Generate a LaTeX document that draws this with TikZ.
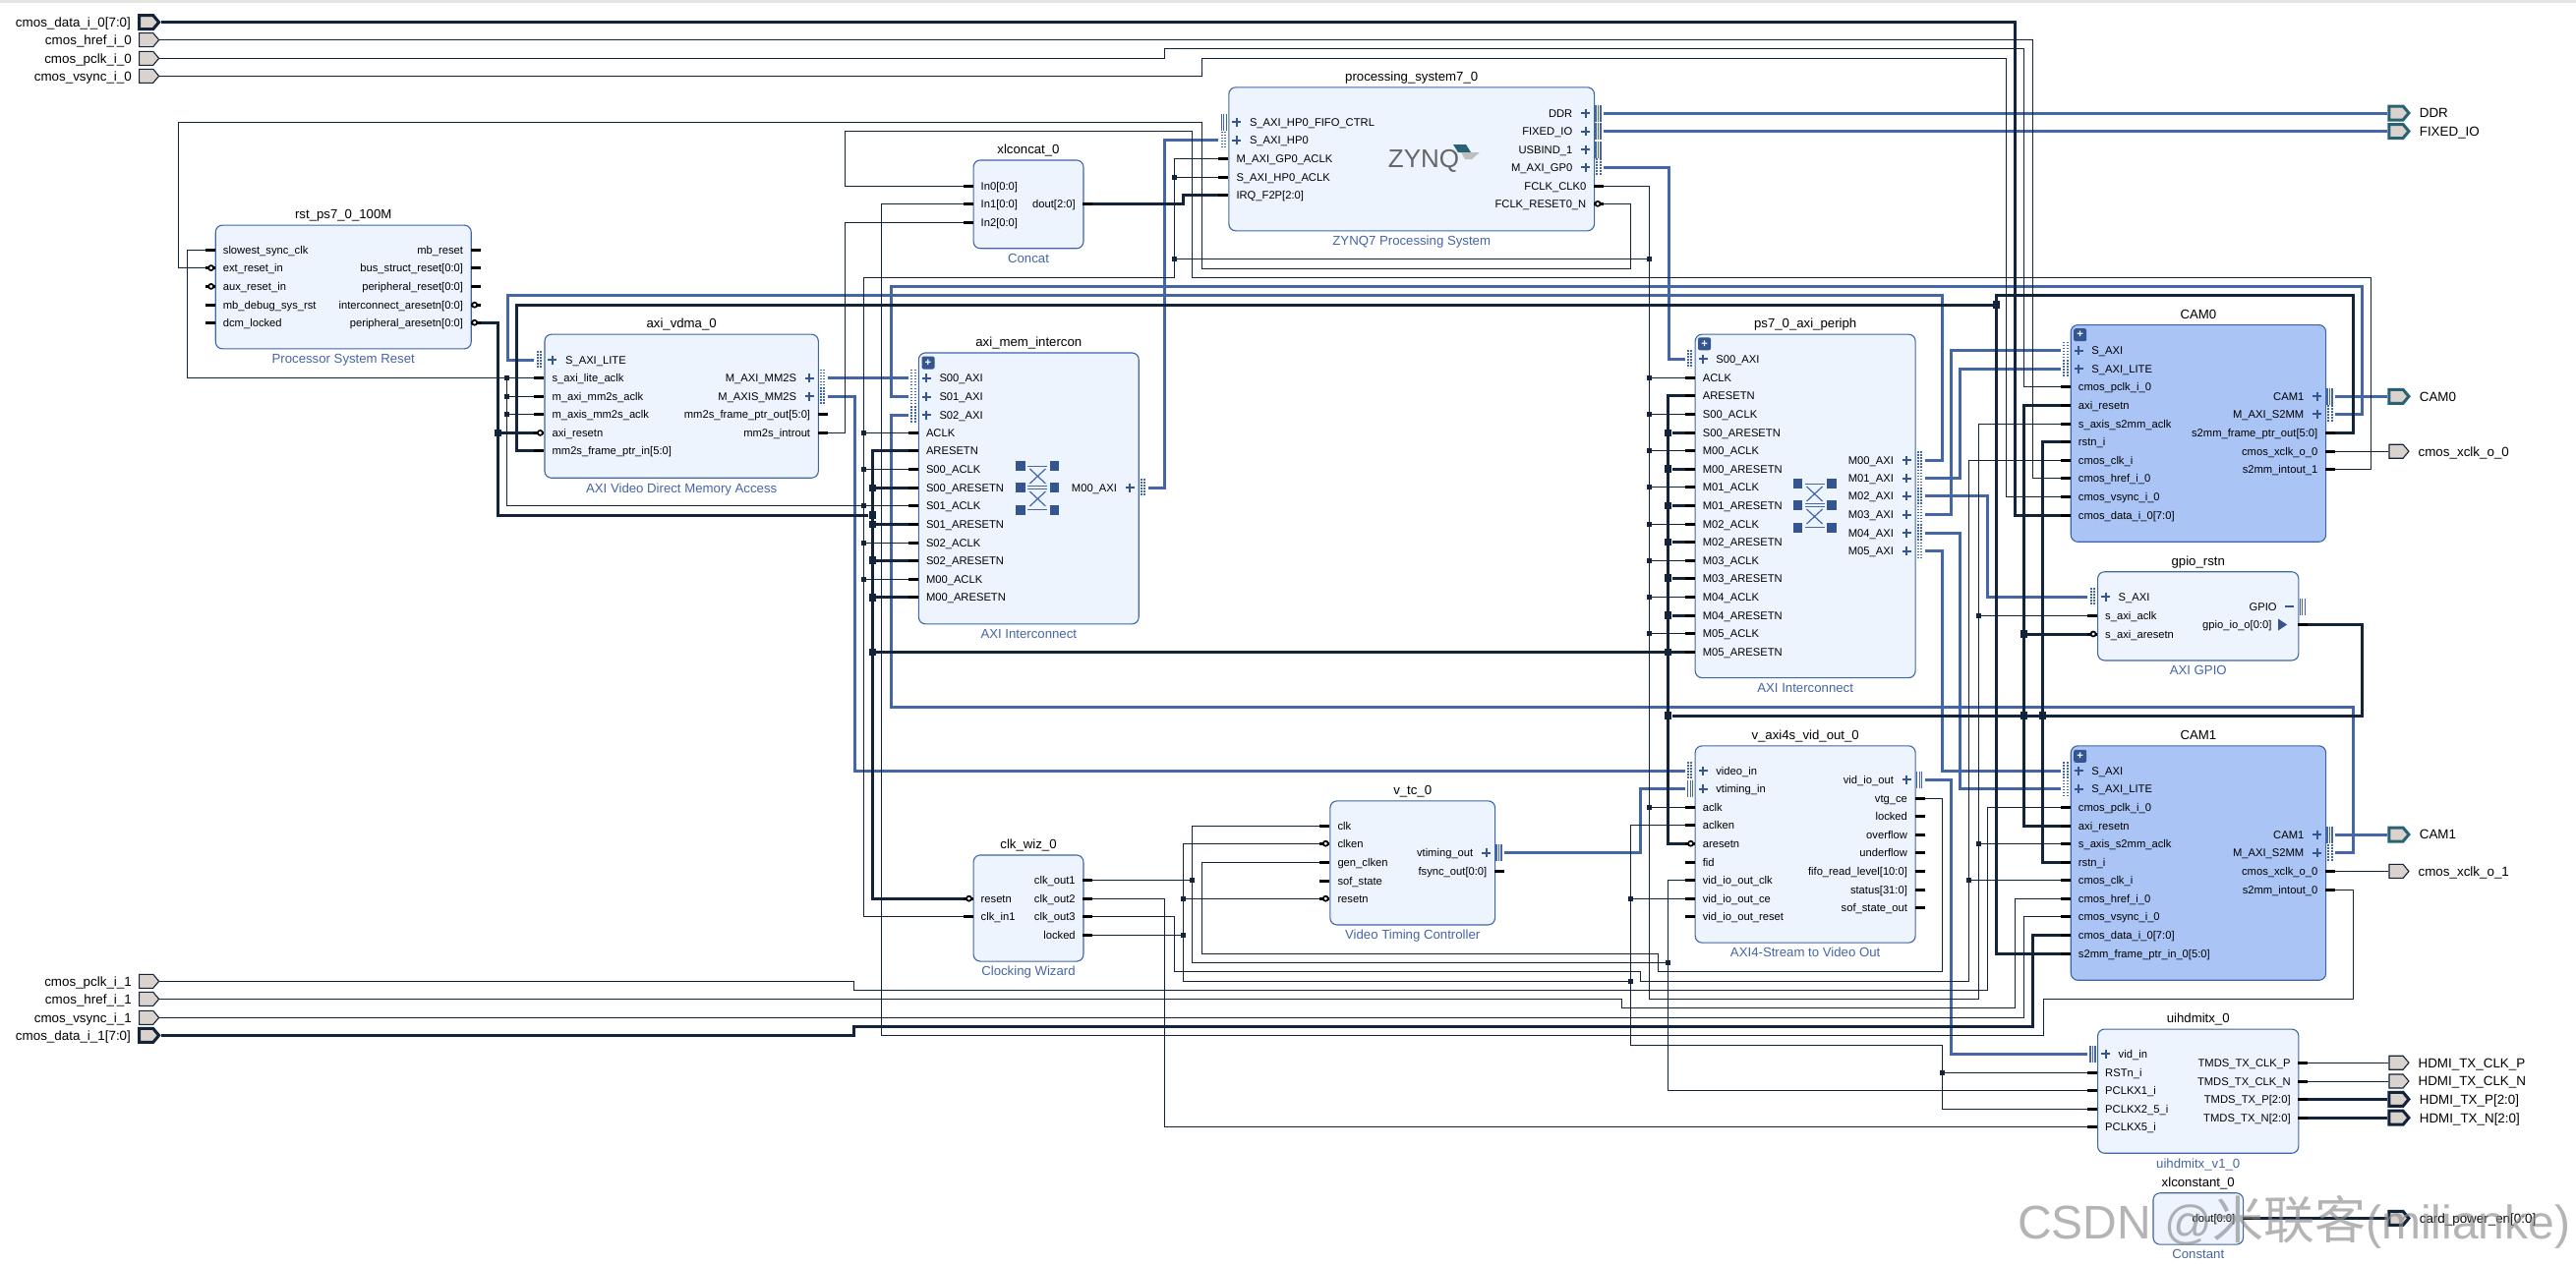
\documentclass[tikz,border=0pt]{standalone}
\usepackage{fontspec}
\setmainfont{Liberation Sans}
\newfontfamily\cjkfont{Noto Sans CJK SC}
\usepackage{xcolor}
\usepackage{tikz}
\usetikzlibrary{shapes.symbols,positioning}
\definecolor{ipfill}{RGB}{237,244,254}
\definecolor{camfill}{RGB}{169,196,245}
\definecolor{ipedge}{RGB}{62,101,165}
\definecolor{subblue}{RGB}{68,100,168}
\definecolor{netdark}{RGB}{18,35,58}
\definecolor{netblue}{RGB}{68,102,166}
\definecolor{markblue}{RGB}{52,85,143}
\definecolor{portfill}{RGB}{218,210,205}
\definecolor{portteal}{RGB}{42,98,117}
\newcommand{\pinfont}{\fontsize{11.2}{12}\selectfont}
\newcommand{\ipfont}{\fontsize{13.2}{15}\selectfont}
\tikzset{
  ipbox/.style={rectangle, rounded corners=7pt, draw=ipedge, fill=ipfill, line width=1.1pt, inner sep=0pt, anchor=north west},
  ipboxcam/.style={ipbox, fill=camfill},
  iptitle/.style={font=\ipfont, text height=9.5pt, text depth=0pt, inner sep=0pt},
  ipsub/.style={iptitle, text=subblue},
  addbtn/.style={rectangle, rounded corners=2pt, fill=markblue, text=white, font=\pinfont\bfseries, minimum size=13pt, inner sep=0pt},
  pinlabel/.style={font=\pinfont, text height=8pt, text depth=0pt, inner ysep=0pt},
  pinstub/.style={draw=black, line width=3pt},
  negring/.style={draw=black, fill=white, line width=1.7pt, to path={circle[radius=2.5pt]}},
  plusline/.style={draw=markblue, line width=2pt},
  dotline/.style={draw=netblue, line width=2pt, dash pattern=on 1.6pt off 1.4pt},
  barline/.style={draw=netblue, line width=1.1pt},
  lbase/.style={pinlabel, anchor=west, xshift=-10pt},
  rbase/.style={pinlabel, anchor=east, xshift=10pt},
  lpin/.style={lbase, inner xsep=18pt, append after command={(\tikzlastnode.west) edge[pinstub] ([xshift=10pt]\tikzlastnode.west)}},
  rpin/.style={rbase, inner xsep=17.5pt, append after command={(\tikzlastnode.east) edge[pinstub] ([xshift=-10pt]\tikzlastnode.east)}},
  lneg/.style={lpin, append after command={([xshift=6pt]\tikzlastnode.west) edge[negring] ([xshift=6pt]\tikzlastnode.west)}},
  rneg/.style={rpin, append after command={([xshift=-6pt]\tikzlastnode.east) edge[negring] ([xshift=-6pt]\tikzlastnode.east)}},
  lplus/.style={lbase, inner xsep=31.5pt, append after command={
    ([xshift=14pt]\tikzlastnode.west) edge[plusline] ([xshift=23pt]\tikzlastnode.west)
    ([xshift=18.5pt,yshift=4.5pt]\tikzlastnode.west) edge[plusline] ([xshift=18.5pt,yshift=-4.5pt]\tikzlastnode.west)}},
  rplus/.style={rbase, inner xsep=31.5pt, append after command={
    ([xshift=-14pt]\tikzlastnode.east) edge[plusline] ([xshift=-23pt]\tikzlastnode.east)
    ([xshift=-18.5pt,yshift=4.5pt]\tikzlastnode.east) edge[plusline] ([xshift=-18.5pt,yshift=-4.5pt]\tikzlastnode.east)}},
  lbus/.style={lplus, append after command={
    ([xshift=3.5pt,yshift=9pt]\tikzlastnode.west) edge[dotline] ([xshift=3.5pt,yshift=-9pt]\tikzlastnode.west)
    ([xshift=6.8pt,yshift=9pt]\tikzlastnode.west) edge[dotline] ([xshift=6.8pt,yshift=-9pt]\tikzlastnode.west)}},
  rbus/.style={rplus, append after command={
    ([xshift=-3.5pt,yshift=9pt]\tikzlastnode.east) edge[dotline] ([xshift=-3.5pt,yshift=-9pt]\tikzlastnode.east)
    ([xshift=-6.8pt,yshift=9pt]\tikzlastnode.east) edge[dotline] ([xshift=-6.8pt,yshift=-9pt]\tikzlastnode.east)}},
  lbars/.style={append after command={
    ([xshift=3pt,yshift=8.5pt]\tikzlastnode.west) edge[barline] ([xshift=3pt,yshift=-8.5pt]\tikzlastnode.west)
    ([xshift=5.5pt,yshift=8.5pt]\tikzlastnode.west) edge[barline] ([xshift=5.5pt,yshift=-8.5pt]\tikzlastnode.west)
    ([xshift=8pt,yshift=8.5pt]\tikzlastnode.west) edge[barline] ([xshift=8pt,yshift=-8.5pt]\tikzlastnode.west)}},
  rbars/.style={append after command={
    ([xshift=-3pt,yshift=8.5pt]\tikzlastnode.east) edge[barline] ([xshift=-3pt,yshift=-8.5pt]\tikzlastnode.east)
    ([xshift=-5.5pt,yshift=8.5pt]\tikzlastnode.east) edge[barline] ([xshift=-5.5pt,yshift=-8.5pt]\tikzlastnode.east)
    ([xshift=-8pt,yshift=8.5pt]\tikzlastnode.east) edge[barline] ([xshift=-8pt,yshift=-8.5pt]\tikzlastnode.east)}},
  lifbar/.style={lplus, lbars},
  rifbar/.style={rplus, rbars},
  extport/.style={signal, signal to=east, signal pointer angle=100, fill=portfill, draw=netdark, line width=1.1pt, minimum width=20pt, minimum height=14pt, inner sep=0pt},
  extbus/.style={extport, line width=3pt},
  extif/.style={extport, draw=portteal, line width=3pt},
  extlabel/.style={font=\fontsize{13.4}{15}\selectfont, text height=9.6pt, text depth=0pt, inner sep=0pt},
  pwire/.style={draw=netdark, line width=1pt},
  pthick/.style={draw=netdark, line width=3pt},
  pbus/.style={draw=netblue, line width=3pt},
  jthin/.style={rectangle, fill=netdark, minimum size=5pt, inner sep=0pt},
  jthick/.style={rectangle, fill=netdark, minimum size=7.5pt, inner sep=0pt},
  xbar/.pic={
    \foreach \py in {-22.5,0,22.5} {
      \fill[markblue] (-22,\py-5) rectangle (-12.5,\py+5);
      \fill[markblue] (12.5,\py-5) rectangle (22,\py+5);
    }
    \draw[netblue, line width=1pt] (-10,-22) -- (10,-22) (-10,22) -- (10,22) (-10,-1.7) -- (10,-1.7) (-10,1.7) -- (10,1.7);
    \draw[netblue, line width=1.2pt] (-8,-19) -- (8,-4) (8,-19) -- (-8,-4) (-8,4) -- (8,19) (8,4) -- (-8,19);
  }
}

\begin{document}
\begin{tikzpicture}[x=1pt,y=-1pt]
\useasboundingbox (0,0) rectangle (2620,1285);
\fill[black!10] (0,0) rectangle (2620,3);

% blocks
\node[ipbox, minimum width=260pt, minimum height=125.7pt] (rst) at (218.7,228.6) {};
\node[iptitle, above=5.5pt of rst] (rst_name) {rst\_ps7\_0\_100M};
\node[ipsub, below=4.5pt of rst] (rst_type) {Processor System Reset};
\node[ipbox, minimum width=278.4pt, minimum height=146.1pt] (vdma) at (553.4,339.6) {};
\node[iptitle, above=5.5pt of vdma] (vdma_name) {axi\_vdma\_0};
\node[ipsub, below=4.5pt of vdma] (vdma_type) {AXI Video Direct Memory Access};
\node[ipbox, minimum width=223.9pt, minimum height=275.9pt] (ic) at (933.8,358.4) {};
\node[iptitle, above=5.5pt of ic] (ic_name) {axi\_mem\_intercon};
\node[ipsub, below=4.5pt of ic] (ic_type) {AXI Interconnect};
\node[ipbox, minimum width=111.9pt, minimum height=89.8pt] (concat) at (989.5,162.4) {};
\node[iptitle, above=5.5pt of concat] (concat_name) {xlconcat\_0};
\node[ipsub, below=4.5pt of concat] (concat_type) {Concat};
\node[ipbox, minimum width=371.7pt, minimum height=146pt] (zynq) at (1249.3,88.3) {};
\node[iptitle, above=5.5pt of zynq] (zynq_name) {processing\_system7\_0};
\node[ipsub, below=4.5pt of zynq] (zynq_type) {ZYNQ7 Processing System};
\node[ipbox, minimum width=224pt, minimum height=349.4pt] (pp) at (1723.6,339.6) {};
\node[iptitle, above=5.5pt of pp] (pp_name) {ps7\_0\_axi\_periph};
\node[ipsub, below=4.5pt of pp] (pp_type) {AXI Interconnect};
\node[ipboxcam, minimum width=259.3pt, minimum height=220.7pt] (cam0) at (2105.7,330) {};
\node[iptitle, above=5.5pt of cam0] (cam0_name) {CAM0};
\node[ipbox, minimum width=204.3pt, minimum height=90.2pt] (gpio) at (2133,581.2) {};
\node[iptitle, above=5.5pt of gpio] (gpio_name) {gpio\_rstn};
\node[ipsub, below=4.5pt of gpio] (gpio_type) {AXI GPIO};
\node[ipboxcam, minimum width=259.3pt, minimum height=238.4pt] (cam1) at (2105.7,758.3) {};
\node[iptitle, above=5.5pt of cam1] (cam1_name) {CAM1};
\node[ipbox, minimum width=224pt, minimum height=200.3pt] (vout) at (1723.6,758.3) {};
\node[iptitle, above=5.5pt of vout] (vout_name) {v\_axi4s\_vid\_out\_0};
\node[ipsub, below=4.5pt of vout] (vout_type) {AXI4-Stream to Video Out};
\node[ipbox, minimum width=167.7pt, minimum height=126.1pt] (vtc) at (1352.3,814.3) {};
\node[iptitle, above=5.5pt of vtc] (vtc_name) {v\_tc\_0};
\node[ipsub, below=4.5pt of vtc] (vtc_type) {Video Timing Controller};
\node[ipbox, minimum width=111.9pt, minimum height=108.1pt] (wiz) at (989.5,869.4) {};
\node[iptitle, above=5.5pt of wiz] (wiz_name) {clk\_wiz\_0};
\node[ipsub, below=4.5pt of wiz] (wiz_type) {Clocking Wizard};
\node[ipbox, minimum width=204.3pt, minimum height=126.2pt] (hdmi) at (2133,1046.5) {};
\node[iptitle, above=5.5pt of hdmi] (hdmi_name) {uihdmitx\_0};
\node[ipsub, below=4.5pt of hdmi] (hdmi_type) {uihdmitx\_v1\_0};
\node[ipbox, minimum width=91.6pt, minimum height=52.4pt] (cnst) at (2189.4,1213.2) {};
\node[iptitle, above=5.5pt of cnst] (cnst_name) {xlconstant\_0};
\node[ipsub, below=4.5pt of cnst] (cnst_type) {Constant};

\node[addbtn] (ic_add) at (944,369) {+};
\node[addbtn] (pp_add) at (1733.5,349.8) {+};
\node[addbtn] (cam0_add) at (2115.7,340.7) {+};
\node[addbtn] (cam1_add) at (2115.7,769.3) {+};
\pic at (1055.4,496) {xbar};
\pic at (1845.5,514) {xbar};
\node[font=\fontsize{26}{30}\selectfont, text=black!60, inner sep=0pt] (zynq_logo) at (1448,164) {ZYNQ};
\fill[portteal] (1478,147) -- (1491,147) -- (1496,155) -- (1483,155) -- cycle;
\fill[black!25] (1486,155) -- (1505,155) -- (1497,162) -- (1490,162) -- cycle;

% rst_ps7_0_100M pins
\node[lpin] (rst_sync) at (218.7,254.3) {slowest\_sync\_clk};
\node[lneg] (rst_ext) at (218.7,272.6) {ext\_reset\_in};
\node[lneg] (rst_aux) at (218.7,291.4) {aux\_reset\_in};
\node[lpin] (rst_dbg) at (218.7,310.2) {mb\_debug\_sys\_rst};
\node[lpin] (rst_dcm) at (218.7,328.2) {dcm\_locked};
\node[rpin] (rst_mb) at (478.7,254.3) {mb\_reset};
\node[rpin] (rst_bus) at (478.7,272.6) {bus\_struct\_reset[0:0]};
\node[rpin] (rst_per) at (478.7,291.4) {peripheral\_reset[0:0]};
\node[rneg] (rst_inter) at (478.7,310.2) {interconnect\_aresetn[0:0]};
\node[rneg] (rst_pa) at (478.7,328.2) {peripheral\_aresetn[0:0]};
% axi_vdma_0 pins
\node[lbus] (vdma_lite) at (553.4,366) {S\_AXI\_LITE};
\node[lpin] (vdma_lclk) at (553.4,384.5) {s\_axi\_lite\_aclk};
\node[lpin] (vdma_mclk) at (553.4,403.3) {m\_axi\_mm2s\_aclk};
\node[lpin] (vdma_sclk) at (553.4,421.6) {m\_axis\_mm2s\_aclk};
\node[lneg] (vdma_rstn) at (553.4,440.4) {axi\_resetn};
\node[lpin] (vdma_ptr) at (553.4,458.4) {mm2s\_frame\_ptr\_in[5:0]};
\node[rbus] (vdma_mm) at (831.8,384.5) {M\_AXI\_MM2S};
\node[rbus] (vdma_axis) at (831.8,403.3) {M\_AXIS\_MM2S};
\node[rpin] (vdma_pout) at (831.8,421.6) {mm2s\_frame\_ptr\_out[5:0]};
\node[rpin] (vdma_int) at (831.8,440.4) {mm2s\_introut};
% axi_mem_intercon pins
\node[lbus] (ic_s00) at (933.8,384.5) {S00\_AXI};
\node[lbus] (ic_s01) at (933.8,403.5) {S01\_AXI};
\node[lbus] (ic_s02) at (933.8,422) {S02\_AXI};
\node[lpin] (ic_aclk) at (933.8,440.4) {ACLK};
\node[lpin] (ic_arst) at (933.8,458.8) {ARESETN};
\node[lpin] (ic_s00c) at (933.8,477) {S00\_ACLK};
\node[lpin] (ic_s00r) at (933.8,496.3) {S00\_ARESETN};
\node[lpin] (ic_s01c) at (933.8,514.6) {S01\_ACLK};
\node[lpin] (ic_s01r) at (933.8,533.5) {S01\_ARESETN};
\node[lpin] (ic_s02c) at (933.8,552.2) {S02\_ACLK};
\node[lpin] (ic_s02r) at (933.8,570.2) {S02\_ARESETN};
\node[lpin] (ic_m00c) at (933.8,589.4) {M00\_ACLK};
\node[lpin] (ic_m00r) at (933.8,607.8) {M00\_ARESETN};
\node[rbus] (ic_m00) at (1157.7,496.3) {M00\_AXI};
% xlconcat_0 pins
\node[lpin] (cc_in0) at (989.5,189.4) {In0[0:0]};
\node[lpin] (cc_in1) at (989.5,207.3) {In1[0:0]};
\node[lpin] (cc_in2) at (989.5,226) {In2[0:0]};
\node[rpin] (cc_dout) at (1101.4,207.3) {dout[2:0]};
% processing_system7_0 pins
\node[lifbar] (zy_fifo) at (1249.3,124.3) {S\_AXI\_HP0\_FIFO\_CTRL};
\node[lbus] (zy_hp) at (1249.3,142.7) {S\_AXI\_HP0};
\node[lpin] (zy_gpclk) at (1249.3,161.3) {M\_AXI\_GP0\_ACLK};
\node[lpin] (zy_hpclk) at (1249.3,180.3) {S\_AXI\_HP0\_ACLK};
\node[lpin] (zy_irq) at (1249.3,198.3) {IRQ\_F2P[2:0]};
\node[rifbar] (zy_ddr) at (1621,115) {DDR};
\node[rifbar] (zy_fix) at (1621,133.5) {FIXED\_IO};
\node[rifbar] (zy_usb) at (1621,152.2) {USBIND\_1};
\node[rbus] (zy_gp) at (1621,170.2) {M\_AXI\_GP0};
\node[rpin] (zy_clk) at (1621,189.4) {FCLK\_CLK0};
\node[rneg] (zy_frst) at (1621,207.3) {FCLK\_RESET0\_N};
% ps7_0_axi_periph pins
\node[lbus] (pp_s00) at (1723.6,365.3) {S00\_AXI};
\node[lpin] (pp_aclk) at (1723.6,384) {ACLK};
\node[lpin] (pp_arst) at (1723.6,402) {ARESETN};
\node[lpin] (pp_s00c) at (1723.6,421) {S00\_ACLK};
\node[lpin] (pp_s00r) at (1723.6,440.4) {S00\_ARESETN};
\node[lpin] (pp_m00c) at (1723.6,458.4) {M00\_ACLK};
\node[lpin] (pp_m00r) at (1723.6,477) {M00\_ARESETN};
\node[lpin] (pp_m01c) at (1723.6,495.5) {M01\_ACLK};
\node[lpin] (pp_m01r) at (1723.6,514.3) {M01\_ARESETN};
\node[lpin] (pp_m02c) at (1723.6,533.5) {M02\_ACLK};
\node[lpin] (pp_m02r) at (1723.6,551.4) {M02\_ARESETN};
\node[lpin] (pp_m03c) at (1723.6,570.2) {M03\_ACLK};
\node[lpin] (pp_m03r) at (1723.6,588.2) {M03\_ARESETN};
\node[lpin] (pp_m04c) at (1723.6,607) {M04\_ACLK};
\node[lpin] (pp_m04r) at (1723.6,626) {M04\_ARESETN};
\node[lpin] (pp_m05c) at (1723.6,644.5) {M05\_ACLK};
\node[lpin] (pp_m05r) at (1723.6,663.3) {M05\_ARESETN};
\node[rbus] (pp_m00) at (1947.6,468.2) {M00\_AXI};
\node[rbus] (pp_m01) at (1947.6,486.5) {M01\_AXI};
\node[rbus] (pp_m02) at (1947.6,504.9) {M02\_AXI};
\node[rbus] (pp_m03) at (1947.6,523.7) {M03\_AXI};
\node[rbus] (pp_m04) at (1947.6,542) {M04\_AXI};
\node[rbus] (pp_m05) at (1947.6,560.8) {M05\_AXI};
% CAM0 pins
\node[lbus] (c0_saxi) at (2105.7,356.7) {S\_AXI};
\node[lbus] (c0_lite) at (2105.7,375.3) {S\_AXI\_LITE};
\node[lpin] (c0_pclk) at (2105.7,393.3) {cmos\_pclk\_i\_0};
\node[lpin] (c0_arst) at (2105.7,412.7) {axi\_resetn};
\node[lpin] (c0_sclk) at (2105.7,431.3) {s\_axis\_s2mm\_aclk};
\node[lpin] (c0_rsti) at (2105.7,449.7) {rstn\_i};
\node[lpin] (c0_cclk) at (2105.7,468.3) {cmos\_clk\_i};
\node[lpin] (c0_href) at (2105.7,486.7) {cmos\_href\_i\_0};
\node[lpin] (c0_vsync) at (2105.7,505.7) {cmos\_vsync\_i\_0};
\node[lpin] (c0_data) at (2105.7,524.3) {cmos\_data\_i\_0[7:0]};
\node[rifbar] (c0_cam) at (2365,403.3) {CAM1};
\node[rbus] (c0_s2mm) at (2365,421.2) {M\_AXI\_S2MM};
\node[rpin] (c0_fout) at (2365,440.4) {s2mm\_frame\_ptr\_out[5:0]};
\node[rpin] (c0_xclk) at (2365,459.2) {cmos\_xclk\_o\_0};
\node[rpin] (c0_int) at (2365,477.5) {s2mm\_intout\_1};
% gpio_rstn pins
\node[lbus] (gp_saxi) at (2133,607.3) {S\_AXI};
\node[lpin] (gp_aclk) at (2133,626) {s\_axi\_aclk};
\node[lneg] (gp_rstn) at (2133,645) {s\_axi\_aresetn};
\node[rbase, inner xsep=31.5pt, rbars] (gp_gpio) at (2337.3,617.1) {GPIO};
\node[rpin, inner xsep=36.6pt] (gp_out) at (2337.3,635.5) {gpio\_io\_o[0:0]};
\draw[plusline] (2324,617.1) -- (2333,617.1);
\fill[markblue] (2317,629.5) -- (2326,635.5) -- (2317,641.5) -- cycle;
% CAM1 pins
\node[lbus] (c1_saxi) at (2105.7,784.2) {S\_AXI};
\node[lbus] (c1_lite) at (2105.7,802.7) {S\_AXI\_LITE};
\node[lpin] (c1_pclk) at (2105.7,821.2) {cmos\_pclk\_i\_0};
\node[lpin] (c1_arst) at (2105.7,840) {axi\_resetn};
\node[lpin] (c1_sclk) at (2105.7,858.3) {s\_axis\_s2mm\_aclk};
\node[lpin] (c1_rsti) at (2105.7,877.3) {rstn\_i};
\node[lpin] (c1_cclk) at (2105.7,895.3) {cmos\_clk\_i};
\node[lpin] (c1_href) at (2105.7,914.3) {cmos\_href\_i\_0};
\node[lpin] (c1_vsync) at (2105.7,932.7) {cmos\_vsync\_i\_0};
\node[lpin] (c1_data) at (2105.7,951) {cmos\_data\_i\_0[7:0]};
\node[lpin] (c1_fin) at (2105.7,970) {s2mm\_frame\_ptr\_in\_0[5:0]};
\node[rifbar] (c1_cam) at (2365,849) {CAM1};
\node[rbus] (c1_s2mm) at (2365,867.9) {M\_AXI\_S2MM};
\node[rpin] (c1_xclk) at (2365,886.4) {cmos\_xclk\_o\_0};
\node[rpin] (c1_int) at (2365,905.3) {s2mm\_intout\_0};
% v_axi4s_vid_out_0 pins
\node[lbus] (vo_vid) at (1723.6,784.2) {video\_in};
\node[lifbar] (vo_tim) at (1723.6,802.7) {vtiming\_in};
\node[lpin] (vo_clk) at (1723.6,821.2) {aclk};
\node[lpin] (vo_en) at (1723.6,839.3) {aclken};
\node[lneg] (vo_rst) at (1723.6,858.2) {aresetn};
\node[lpin] (vo_fid) at (1723.6,877.1) {fid};
\node[lpin] (vo_oclk) at (1723.6,895.3) {vid\_io\_out\_clk};
\node[lpin] (vo_oce) at (1723.6,914.2) {vid\_io\_out\_ce};
\node[lpin] (vo_orst) at (1723.6,932.3) {vid\_io\_out\_reset};
\node[rifbar] (vo_out) at (1947.6,793) {vid\_io\_out};
\node[rpin] (vo_ce) at (1947.6,812.3) {vtg\_ce};
\node[rpin] (vo_lock) at (1947.6,830) {locked};
\node[rpin] (vo_ov) at (1947.6,849.4) {overflow};
\node[rpin] (vo_un) at (1947.6,867.5) {underflow};
\node[rpin] (vo_fifo) at (1947.6,886.4) {fifo\_read\_level[10:0]};
\node[rpin] (vo_stat) at (1947.6,905) {status[31:0]};
\node[rpin] (vo_sof) at (1947.6,923.4) {sof\_state\_out};
% v_tc_0 pins
\node[lpin] (vc_clk) at (1352.3,840) {clk};
\node[lneg] (vc_en) at (1352.3,858.2) {clken};
\node[lpin] (vc_gen) at (1352.3,877.5) {gen\_clken};
\node[lpin] (vc_sof) at (1352.3,896.4) {sof\_state};
\node[lneg] (vc_rst) at (1352.3,914.2) {resetn};
\node[rifbar] (vc_tim) at (1520,867.9) {vtiming\_out};
\node[rpin] (vc_fs) at (1520,886.4) {fsync\_out[0:0]};
% clk_wiz_0 pins
\node[lneg] (wz_rstn) at (989.5,914.2) {resetn};
\node[lpin] (wz_in) at (989.5,932.3) {clk\_in1};
\node[rpin] (wz_o1) at (1101.4,895.3) {clk\_out1};
\node[rpin] (wz_o2) at (1101.4,914.2) {clk\_out2};
\node[rpin] (wz_o3) at (1101.4,932.3) {clk\_out3};
\node[rpin] (wz_lock) at (1101.4,951.6) {locked};
% uihdmitx_0 pins
\node[lifbar] (hd_vid) at (2133,1072.4) {vid\_in};
\node[lpin] (hd_rst) at (2133,1091.6) {RSTn\_i};
\node[lpin] (hd_p1) at (2133,1109.4) {PCLKX1\_i};
\node[lpin] (hd_p25) at (2133,1128.3) {PCLKX2\_5\_i};
\node[lpin] (hd_p5) at (2133,1146.4) {PCLKX5\_i};
\node[rpin] (hd_cp) at (2337.3,1081.2) {TMDS\_TX\_CLK\_P};
\node[rpin] (hd_cn) at (2337.3,1100) {TMDS\_TX\_CLK\_N};
\node[rpin] (hd_tp) at (2337.3,1118.3) {TMDS\_TX\_P[2:0]};
\node[rpin] (hd_tn) at (2337.3,1137.2) {TMDS\_TX\_N[2:0]};
\node[rpin] (cn_out) at (2281,1239.4) {dout[0:0]};

% top level ports
\node[extbus] (p_data0) at (148.7,22.6) {};
\node[extlabel, left=7pt of p_data0] (l_data0) {cmos\_data\_i\_0[7:0]};
\node[extport] (p_href0) at (148.7,40.6) {};
\node[extlabel, left=7pt of p_href0] (l_href0) {cmos\_href\_i\_0};
\node[extport] (p_pclk0) at (148.7,59.3) {};
\node[extlabel, left=7pt of p_pclk0] (l_pclk0) {cmos\_pclk\_i\_0};
\node[extport] (p_vsync0) at (148.7,77.3) {};
\node[extlabel, left=7pt of p_vsync0] (l_vsync0) {cmos\_vsync\_i\_0};
\node[extport] (p_pclk1) at (148.7,998.3) {};
\node[extlabel, left=7pt of p_pclk1] (l_pclk1) {cmos\_pclk\_i\_1};
\node[extport] (p_href1) at (148.7,1016.4) {};
\node[extlabel, left=7pt of p_href1] (l_href1) {cmos\_href\_i\_1};
\node[extport] (p_vsync1) at (148.7,1035.3) {};
\node[extlabel, left=7pt of p_vsync1] (l_vsync1) {cmos\_vsync\_i\_1};
\node[extbus] (p_data1) at (148.7,1053.4) {};
\node[extlabel, left=7pt of p_data1] (l_data1) {cmos\_data\_i\_1[7:0]};
\node[extif] (p_ddr) at (2437,115) {};
\node[extlabel, right=8.7pt of p_ddr] (l_ddr) {DDR};
\node[extif] (p_fix) at (2437,133.5) {};
\node[extlabel, right=8.7pt of p_fix] (l_fix) {FIXED\_IO};
\node[extif] (p_cam0) at (2437,403.3) {};
\node[extlabel, right=8.7pt of p_cam0] (l_cam0) {CAM0};
\node[extport] (p_xclk0) at (2437,459.2) {};
\node[extlabel, right=8.7pt of p_xclk0] (l_xclk0) {cmos\_xclk\_o\_0};
\node[extif] (p_cam1) at (2437,849) {};
\node[extlabel, right=8.7pt of p_cam1] (l_cam1) {CAM1};
\node[extport] (p_xclk1) at (2437,886.4) {};
\node[extlabel, right=8.7pt of p_xclk1] (l_xclk1) {cmos\_xclk\_o\_1};
\node[extport] (p_cp) at (2437,1081.2) {};
\node[extlabel, right=8.7pt of p_cp] (l_cp) {HDMI\_TX\_CLK\_P};
\node[extport] (p_cn) at (2437,1100) {};
\node[extlabel, right=8.7pt of p_cn] (l_cn) {HDMI\_TX\_CLK\_N};
\node[extbus] (p_tp) at (2437,1118.3) {};
\node[extlabel, right=8.7pt of p_tp] (l_tp) {HDMI\_TX\_P[2:0]};
\node[extbus] (p_tn) at (2437,1137.2) {};
\node[extlabel, right=8.7pt of p_tn] (l_tn) {HDMI\_TX\_N[2:0]};
\node[extbus] (p_card) at (2437,1239.4) {};
\node[extlabel, right=8.7pt of p_card] (l_card) {card\_power\_en[0:0]};

% junctions
\node[jthin] (j_zy1) at (1194.3,180.3) {};
\node[jthin] (j_zy2) at (1194.3,263.3) {};
\node[jthin] (j_fc0) at (1677.3,263.3) {};
\node[jthin] (j_fc1) at (1677.3,384) {};
\node[jthin] (j_fc2) at (1677.3,421) {};
\node[jthin] (j_fc3) at (1677.3,458.4) {};
\node[jthin] (j_fc4) at (1677.3,495.5) {};
\node[jthin] (j_fc5) at (1677.3,533.5) {};
\node[jthin] (j_fc6) at (1677.3,570.2) {};
\node[jthin] (j_fc7) at (1677.3,607) {};
\node[jthin] (j_fc8) at (1677.3,644.5) {};
\node[jthin] (j_fc9) at (1677.3,821.2) {};
\node[jthin] (j_fd1) at (2012.3,626) {};
\node[jthin] (j_fd2) at (2012.3,858.3) {};
\node[jthin] (j_ic1) at (878.5,440.4) {};
\node[jthin] (j_ic2) at (878.5,477) {};
\node[jthin] (j_ic3) at (878.5,514.6) {};
\node[jthin] (j_ic4) at (878.5,552.2) {};
\node[jthin] (j_ic5) at (878.5,589.4) {};
\node[jthin] (j_vd1) at (515.5,384.5) {};
\node[jthin] (j_vd2) at (515.5,403.3) {};
\node[jthin] (j_vd3) at (515.5,421.6) {};
\node[jthin] (j_out1a) at (1212.8,895.3) {};
\node[jthin] (j_out1b) at (1696.4,979.4) {};
\node[jthin] (j_out3) at (2002.3,895.3) {};
\node[jthin] (j_lk1) at (1203.6,914.2) {};
\node[jthin] (j_lk2) at (1203.6,951.6) {};
\node[jthin] (j_lk3) at (1658.3,998.3) {};
\node[jthin] (j_lk4) at (1658.3,914.2) {};
\node[jthin] (j_lk5) at (1975.7,1091.6) {};
\node[jthick] (j_vd4) at (506.3,440.4) {};
\node[jthick] (j_rs1) at (887.3,496.3) {};
\node[jthick] (j_rs2) at (887.3,524) {};
\node[jthick] (j_rs3) at (887.3,533.5) {};
\node[jthick] (j_rs4) at (887.3,570.2) {};
\node[jthick] (j_rs5) at (887.3,607.8) {};
\node[jthick] (j_rs6) at (887.3,663.3) {};
\node[jthick] (j_pp1) at (1696.7,440.4) {};
\node[jthick] (j_pp2) at (1696.7,477) {};
\node[jthick] (j_pp3) at (1696.7,514.3) {};
\node[jthick] (j_pp4) at (1696.7,551.4) {};
\node[jthick] (j_pp5) at (1696.7,588.2) {};
\node[jthick] (j_pp6) at (1696.7,626) {};
\node[jthick] (j_pp7) at (1696.7,663.3) {};
\node[jthick] (j_pp8) at (1696.7,728.2) {};
\node[jthick] (j_gp1) at (2058.3,728.2) {};
\node[jthick] (j_gp2) at (2077.3,728.2) {};
\node[jthick] (j_gp3) at (2058.3,645) {};
\node[jthick] (j_fr1) at (2030.6,310.2) {};

% AXI nets
\draw[pbus] (vdma_mm.east) -- (ic_s00.west);
\draw[pbus] (vdma_axis.east) -| (869.3,784.2) -- (vo_vid.west);
\draw[pbus] (ic_m00.east) -| (1184.2,142.7) -- (zy_hp.west);
\draw[pbus] (zy_gp.east) -| (1697,365.3) -- (pp_s00.west);
\draw[pbus] (pp_m00.east) -| (1975,300.8) -| (516,366) -- (vdma_lite.west);
\draw[pbus] (pp_m01.east) -| (1993.3,375.3) -- (c0_lite.west);
\draw[pbus] (pp_m02.east) -| (2021.7,607.3) -- (gp_saxi.west);
\draw[pbus] (pp_m03.east) -| (1984,356.7) -- (c0_saxi.west);
\draw[pbus] (pp_m04.east) -| (1993.3,802.7) -- (c1_lite.west);
\draw[pbus] (pp_m05.east) -| (1975,784.2) -- (c1_saxi.west);
\draw[pbus] (c0_s2mm.east) -| (2402.9,291.4) -| (906.7,403.5) -- (ic_s01.west);
\draw[pbus] (c1_s2mm.east) -| (2393.6,719) -| (906.7,422) -- (ic_s02.west);
\draw[pbus] (vc_tim.east) -| (1668,802.7) -- (vo_tim.west);
\draw[pbus] (vo_out.east) -| (1984.2,1072.4) -- (hd_vid.west);
\draw[pbus] (zy_ddr.east) -- (p_ddr.west);
\draw[pbus] (zy_fix.east) -- (p_fix.west);
\draw[pbus] (c0_cam.east) -- (p_cam0.west);
\draw[pbus] (c1_cam.east) -- (p_cam1.west);

% thin nets
\draw[pwire] (p_href0.east) -| (2067.3,486.7) -- (c0_href.west);
\draw[pwire] (p_pclk0.east) -| (1184.3,49.4) -| (2058.3,393.3) -- (c0_pclk.west);
\draw[pwire] (p_vsync0.east) -| (1222.3,59.3) -| (2040.7,505.7) -- (c0_vsync.west);
\draw[pwire] (zy_frst.east) -| (1658,273.3) -| (1222.3,124.3) -- (181.4,124.3) |- (rst_ext.west);
\draw[pwire] (c0_int.east) -| (2411.5,282.3) -| (1212.3,133.3) -| (859.3,189.4) -- (cc_in0.west);
\draw[pwire] (zy_clk.east) -| (1677.3,1016.3) -| (2012.3,431.3) -- (c0_sclk.west);
\draw[pwire] (j_fc0) -- (j_zy2);
\draw[pwire] (j_fc1) -- (pp_aclk.west) (j_fc2) -- (pp_s00c.west) (j_fc3) -- (pp_m00c.west) (j_fc4) -- (pp_m01c.west);
\draw[pwire] (j_fc5) -- (pp_m02c.west) (j_fc6) -- (pp_m03c.west) (j_fc7) -- (pp_m04c.west) (j_fc8) -- (pp_m05c.west);
\draw[pwire] (j_fc9) -- (vo_clk.west) (j_fd1) -- (gp_aclk.west) (j_fd2) -- (c1_sclk.west);
\draw[pwire] (zy_gpclk.west) -| (1194.3,282.3) -| (878.5,932.3) -- (wz_in.west);
\draw[pwire] (j_zy1) -- (zy_hpclk.west);
\draw[pwire] (j_ic1) -- (ic_aclk.west) (j_ic2) -- (ic_s00c.west) (j_ic3) -- (ic_s01c.west) (j_ic4) -- (ic_s02c.west) (j_ic5) -- (ic_m00c.west);
\draw[pwire] (j_ic3) -| (j_vd1);
\draw[pwire] (rst_sync.west) -| (190.6,384.5) -- (vdma_lclk.west);
\draw[pwire] (j_vd2) -- (vdma_mclk.west) (j_vd3) -- (vdma_sclk.west);
\draw[pwire] (vdma_int.east) -| (859.3,226) -- (cc_in2.west);
\draw[pwire] (c1_int.east) -| (2393.6,1016.3) -| (2078,1053.4) -| (896.5,207.3) -- (cc_in1.west);
\draw[pwire] (vo_ce.east) -| (1975.7,988.3) -| (1686.7,970.5) -| (1222.5,877.5) -- (vc_gen.west);
\draw[pwire] (wz_o1.east) -- (j_out1a);
\draw[pwire] (vc_clk.west) -| (1212.8,979.4) -- (j_out1b);
\draw[pwire] (vo_oclk.west) -| (1696.4,1109.4) -- (hd_p1.west);
\draw[pwire] (wz_o2.east) -| (1184.7,1146.4) -- (hd_p5.west);
\draw[pwire] (wz_o3.east) -| (1194.4,988.3) -| (1668.5,998.3) -| (2002.3,468.3) -- (c0_cclk.west);
\draw[pwire] (j_out3) -- (c1_cclk.west);
\draw[pwire] (vc_en.west) -| (1203.6,998.3) -- (j_lk3);
\draw[pwire] (j_lk1) -- (vc_rst.west) (wz_lock.east) -- (j_lk2);
\draw[pwire] (vo_en.west) -| (1658.3,1063.4) -| (1975.7,1128.3) -- (hd_p25.west);
\draw[pwire] (j_lk4) -- (vo_oce.west) (j_lk5) -- (hd_rst.west);
\draw[pwire] (p_pclk1.east) -| (868.4,1007.3) -| (2021.7,821.2) -- (c1_pclk.west);
\draw[pwire] (p_href1.east) -| (1649.5,1025.3) -| (2049.3,914.3) -- (c1_href.west);
\draw[pwire] (p_vsync1.east) -| (2058.3,932.7) -- (c1_vsync.west);
\draw[pwire] (c0_xclk.east) -- (p_xclk0.west);
\draw[pwire] (c1_xclk.east) -- (p_xclk1.west);
\draw[pwire] (hd_cp.east) -- (p_cp.west);
\draw[pwire] (hd_cn.east) -- (p_cn.west);

% thick nets
\draw[pthick] (p_data0.east) -| (2049.3,524.3) -- (c0_data.west);
\draw[pthick] (p_data1.east) -| (868.5,1044.3) -| (2067.3,951) -- (c1_data.west);
\draw[pthick] (cc_dout.east) -| (1203.3,198.3) -- (zy_irq.west);
\draw[pthick] (rst_pa.east) -| (506.3,524) -- (j_rs2);
\draw[pthick] (j_vd4) -- (vdma_rstn.west);
\draw[pthick] (ic_arst.west) -| (887.3,914.2) -- (wz_rstn.west);
\draw[pthick] (j_rs1) -- (ic_s00r.west) (j_rs3) -- (ic_s01r.west) (j_rs4) -- (ic_s02r.west) (j_rs5) -- (ic_m00r.west);
\draw[pthick] (j_rs6) -- (pp_m05r.west);
\draw[pthick] (pp_arst.west) -| (1696.7,858.2) -- (vo_rst.west);
\draw[pthick] (j_pp1) -- (pp_s00r.west) (j_pp2) -- (pp_m00r.west) (j_pp3) -- (pp_m01r.west) (j_pp4) -- (pp_m02r.west);
\draw[pthick] (j_pp5) -- (pp_m03r.west) (j_pp6) -- (pp_m04r.west);
\draw[pthick] (gp_out.east) -| (2402.9,728.2) -- (j_pp8);
\draw[pthick] (c0_arst.west) -| (2058.3,840) -- (c1_arst.west);
\draw[pthick] (c0_rsti.west) -| (2077.3,877.3) -- (c1_rsti.west);
\draw[pthick] (j_gp3) -- (gp_rstn.west);
\draw[pthick] (c0_fout.east) -| (2393,300.8) -| (2030.6,970) -- (c1_fin.west);
\draw[pthick] (vdma_ptr.west) -| (525.3,310.2) -- (j_fr1);
\draw[pthick] (hd_tp.east) -- (p_tp.west);
\draw[pthick] (hd_tn.east) -- (p_tn.west);
\draw[pthick] (cn_out.east) -- (p_card.west);

% watermark
\node[anchor=west, inner sep=0pt, text=black!45, text opacity=.65, font=\fontsize{48}{52}\selectfont] (wm) at (2052,1243) {CSDN @{\cjkfont\fontsize{52}{52}\selectfont 米联客}(milianke)};
\end{tikzpicture}
\end{document}
